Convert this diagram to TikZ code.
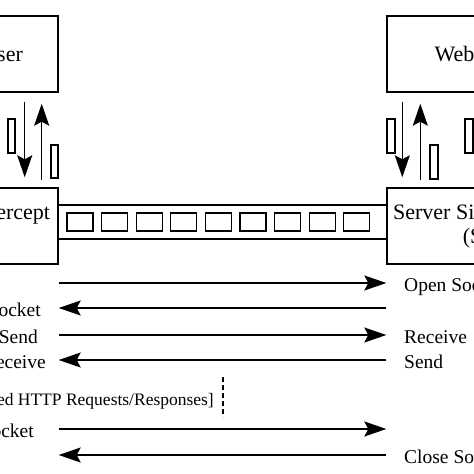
\documentclass[tikz,border=0pt]{standalone}
\usepackage{fontspec}
\setmainfont{Liberation Serif}
\usetikzlibrary{arrows.meta}

\tikzset{
  blk/.style={draw, line width=1.4pt, minimum width=198pt, minimum height=76pt,
    inner sep=0pt, align=center, font=\fontsize{22}{24}\selectfont},
  pkt/.style={draw, line width=1.3pt},
  msg/.style={line width=1.4pt},
  tip/.style={-{Stealth[length=22pt,width=15pt,inset=4pt]}},
  lbl/.style={inner sep=0pt, font=\fontsize{19.5}{22}\selectfont}
}

\begin{document}
\begin{tikzpicture}[x=1pt,y=-1pt]
        \useasboundingbox (0,0) rectangle (474,474);
        \clip (0,0) rectangle (474,474);
        % Boxes (the frame cuts them)
        \node[blk, minimum width=190pt] (browser) at (-37,54) {Web Browser};
        \node[blk] (webserver) at (486,54) {Web Server};
        \node[blk] (csi) at (-41,226) {Client Side Intercept\\(CSI)};
        \node[blk] (ssi) at (486,226) {Server Side Intercept\\(SSI)};
        % Channel between the intercepts, with packets
        \draw[msg] (csi.east |- 0,205) -- (ssi.west |- 0,205);
        \draw[msg] (csi.east |- 0,239) -- (ssi.west |- 0,239);
        \foreach \i in {0,...,8}
          \draw[pkt] ({67+34.6*\i},213) rectangle +(26,18);
        % Browser <-> CSI
        \draw[msg, tip, shorten <=9pt, shorten >=10pt] ([xshift=-34pt]browser.south east) -- ([xshift=-34pt]csi.north east);
        \draw[msg, tip, shorten <=7pt, shorten >=11pt] ([xshift=-17pt]csi.north east) -- ([xshift=-17pt]browser.south east);
        \draw[pkt] (8,119) rectangle (15,153);
        \draw[pkt] (51,145) rectangle (58,178);
        % Web server <-> SSI
        \draw[msg, tip, shorten <=9pt, shorten >=10pt] ([xshift=16pt]webserver.south west) -- ([xshift=16pt]ssi.north west);
        \draw[msg, tip, shorten <=7pt, shorten >=11pt] ([xshift=34pt]ssi.north west) -- ([xshift=34pt]webserver.south west);
        \draw[pkt] (387,119) rectangle (395,153);
        \draw[pkt] (430,145) rectangle (438,179);
        \draw[pkt] (465,119) rectangle (473,153);
        % Socket messages
        \draw[msg, tip] (csi.east |- 0,283) -- (ssi.west |- 0,283);
        \draw[msg, tip] (ssi.west |- 0,308) -- (csi.east |- 0,308);
        \draw[msg, tip] (csi.east |- 0,335) -- (ssi.west |- 0,335);
        \draw[msg, tip] (ssi.west |- 0,360) -- (csi.east |- 0,360);
        \draw[msg, tip] (csi.east |- 0,429) -- (ssi.west |- 0,429);
        \draw[msg, tip] (ssi.west |- 0,455) -- (csi.east |- 0,455);
        % Left labels
        \node[lbl, anchor=base east] (lopen) at (41,316) {Open Socket};
        \node[lbl, anchor=base east] (lsend) at (38,343) {Send};
        \node[lbl, anchor=base east] (lrecv) at (46,368) {Receive};
        \node[lbl, anchor=base east] (lclose) at (34,437) {Close Socket};
        % Right labels
        \node[lbl, anchor=base west] (ropen) at (404,291) {Open Socket};
        \node[lbl, anchor=base west] (rrecv) at (404,343) {Receive};
        \node[lbl, anchor=base west] (rsend) at (404,368) {Send};
        \node[lbl, anchor=base west] (rclose) at (404,463) {Close Socket};
        % Repeated exchange
        \node[lbl, anchor=base east, font=\fontsize{17.5}{20}\selectfont] (repeat) at (214,405) {[Repeated HTTP Requests/Responses]};
        \draw[msg, dash pattern=on 5pt off 3pt] (223,377) -- (223,417);
    \end{tikzpicture}
\end{document}
